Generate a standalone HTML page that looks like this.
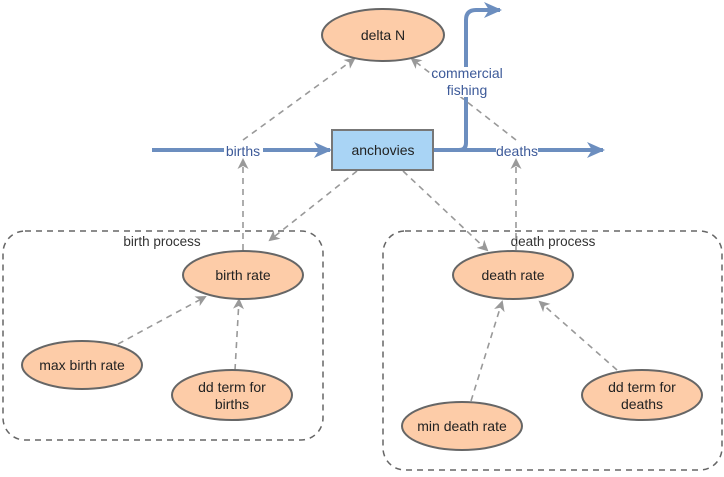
<!DOCTYPE html>
<html><head><meta charset="utf-8"><style>
html,body{margin:0;padding:0;background:#fff;}
svg text{font-family:"Comic Sans MS","Liberation Sans",sans-serif;}
</style></head><body>
<svg width="724" height="472" viewBox="0 0 724 472" xmlns="http://www.w3.org/2000/svg">
<defs>
<marker id="g" markerWidth="11" markerHeight="11" refX="9" refY="5.5" orient="auto" markerUnits="userSpaceOnUse">
<path d="M0,0 L11,5.5 L0,11 L3,5.5 Z" fill="#999"/></marker>
<marker id="b" markerWidth="18" markerHeight="18" refX="16" refY="9" orient="auto" markerUnits="userSpaceOnUse">
<path d="M0,1 L18,9 L0,17 L5,9 Z" fill="#6c8ebf"/></marker>
</defs>
<rect x="3" y="231" width="320" height="209" rx="22" fill="none" stroke="#666" stroke-width="1.5" stroke-dasharray="6,5"/>
<rect x="383" y="231" width="339" height="239" rx="22" fill="none" stroke="#666" stroke-width="1.5" stroke-dasharray="6,5"/>
<text x="162" y="246" font-size="13.5" text-anchor="middle" fill="#333">birth process</text>
<text x="553" y="246" font-size="13.5" text-anchor="middle" fill="#333">death process</text>
<g stroke="#6c8ebf" stroke-width="4" fill="none">
<line x1="152" y1="150" x2="330" y2="150" marker-end="url(#b)"/>
<line x1="433" y1="150" x2="603" y2="150" marker-end="url(#b)"/>
<path d="M433,150 L459,150 Q466,150 466,143 L466,20 Q466,10 476,10 L500,10" marker-end="url(#b)"/>
</g>
<g stroke="#999" stroke-width="1.6" fill="none" stroke-dasharray="6,5" marker-end="url(#g)">
<line x1="243" y1="250" x2="243" y2="160"/>
<line x1="243" y1="140" x2="354" y2="59"/>
<line x1="516" y1="140" x2="412" y2="59"/>
<line x1="516" y1="250" x2="516" y2="160"/>
<line x1="357" y1="171" x2="270" y2="240"/>
<line x1="403" y1="171" x2="487" y2="250"/>
<line x1="118" y1="344" x2="205" y2="297"/>
<line x1="235" y1="370" x2="239" y2="300"/>
<line x1="471" y1="401" x2="502" y2="302"/>
<line x1="617" y1="370" x2="540" y2="302"/>
</g>
<rect x="224" y="144" width="39" height="13" fill="#fff"/>
<text x="243" y="156" font-size="14" text-anchor="middle" fill="#3d5a99">births</text>
<rect x="496" y="144" width="42" height="13" fill="#fff"/>
<text x="517" y="156" font-size="14" text-anchor="middle" fill="#3d5a99">deaths</text>
<rect x="434" y="67" width="68" height="30" fill="#fff"/>
<text x="467" y="78" font-size="14" text-anchor="middle" fill="#3d5a99">commercial</text>
<text x="467" y="95" font-size="14" text-anchor="middle" fill="#3d5a99">fishing</text>
<rect x="332" y="130" width="101" height="40" fill="#a9d4f5" stroke="#777" stroke-width="2"/>
<text x="383" y="155" font-size="14" text-anchor="middle" fill="#222">anchovies</text>
<g fill="#fdcca8" stroke="#666" stroke-width="2">
<ellipse cx="383" cy="35" rx="61" ry="26"/>
<ellipse cx="243" cy="275" rx="60" ry="24"/>
<ellipse cx="82" cy="365" rx="60" ry="24"/>
<ellipse cx="232" cy="395" rx="60" ry="25"/>
<ellipse cx="513" cy="275" rx="60" ry="24"/>
<ellipse cx="462" cy="426" rx="60" ry="24"/>
<ellipse cx="642" cy="395" rx="60" ry="25"/>
</g>
<g font-size="14" text-anchor="middle" fill="#222">
<text x="383" y="40">delta N</text>
<text x="243" y="280">birth rate</text>
<text x="82" y="370">max birth rate</text>
<text x="232" y="392">dd term for</text>
<text x="232" y="409">births</text>
<text x="513" y="280">death rate</text>
<text x="462" y="431">min death rate</text>
<text x="642" y="392">dd term for</text>
<text x="642" y="409">deaths</text>
</g>
</svg>
</body></html>
